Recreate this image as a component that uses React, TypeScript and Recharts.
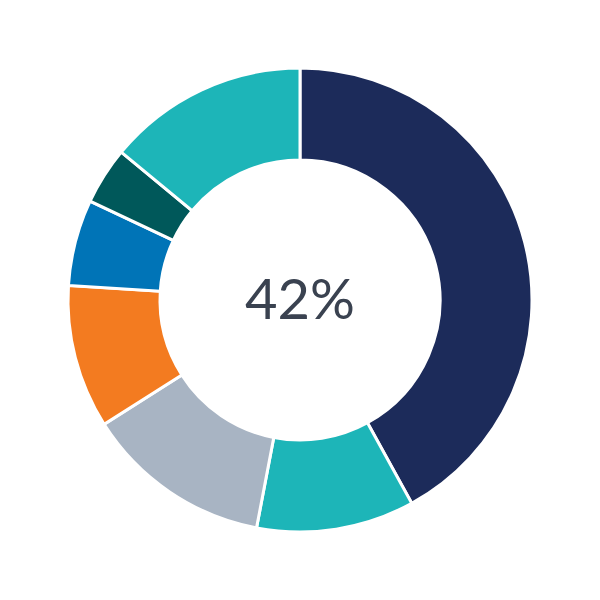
import React from "react";
import { PieChart, Pie, Cell } from "recharts";

const categories = ["A", "B", "C", "D", "E", "F", "G"];
const values = [42, 11, 13, 10, 6, 4, 14];
const colors = ["#1C2B5A", "#1DB5B8", "#A8B4C3", "#F37B20", "#0074B7", "#00585A", "#1DB5B8"];
const centerLabel = "42%";

const data = categories.map((name, i) => ({ name, value: values[i] }));

export default function App() {
  return (
    <div style={{ position: "absolute", left: 0, top: 0, width: 600, height: 600, background: "#fff" }}>
      <PieChart width={600} height={600} margin={{ top: 0, right: 0, bottom: 0, left: 0 }}>
        <Pie
          data={data}
          dataKey="value"
          cx={300}
          cy={300}
          innerRadius={140}
          outerRadius={232}
          startAngle={90}
          endAngle={-270}
          stroke="#ffffff"
          strokeWidth={3}
          isAnimationActive={false}
        >
          {data.map((d, i) => (
            <Cell key={d.name} fill={colors[i]} />
          ))}
        </Pie>
        <text
          x={300}
          y={297}
          textAnchor="middle"
          dominantBaseline="central"
          style={{ fontFamily: "Lato, 'Open Sans', sans-serif", fontSize: 56, fill: "#3A4250" }}
        >
          {centerLabel}
        </text>
      </PieChart>
    </div>
  );
}
